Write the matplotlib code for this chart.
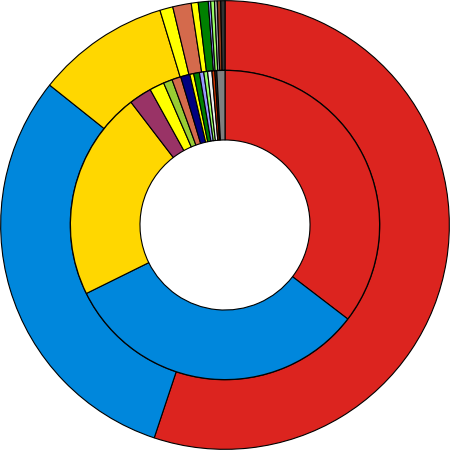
import matplotlib
matplotlib.use("Agg")
import matplotlib.pyplot as plt

# outer ring (share, %)
outer_values = [55.1, 30.6, 9.6, 0.94, 1.33, 0.5, 0.72, 0.17, 0.27, 0.2, 0.25, 0.3]
outer_colours = ["#dc241f", "#0087dc", "#ffd700", "#ffff00", "#d46a4c", "#ffff00",
                 "#008000", "#9999ff", "#99ff66", "#aaaaaa", "#8b3a1a", "#333333"]

# inner ring (share, %)
inner_values = [35.4, 32.3, 21.9, 2.37, 1.54, 0.93, 0.94, 0.97, 0.4, 0.6, 0.45,
                0.4, 0.45, 0.3, 0.2, 0.85]
inner_colours = ["#dc241f", "#0087dc", "#ffd700", "#993366", "#ffff00", "#99cc33",
                 "#d46a4c", "#000080", "#ffff00", "#008000", "#9999ff", "#99ff66",
                 "#eeeeee", "#cc3300", "#333333", "#808080"]

fig = plt.figure(figsize=(4.5, 4.5), dpi=100)
ax = fig.add_axes([0, 0, 1, 1])

wedge = dict(edgecolor="black", linewidth=0.8)
ax.pie(outer_values, colors=outer_colours, radius=1.0, startangle=90,
       counterclock=False, wedgeprops=dict(width=0.31, **wedge))
ax.pie(inner_values, colors=inner_colours, radius=0.689, startangle=90,
       counterclock=False, wedgeprops=dict(width=0.31, **wedge))

ax.set_xlim(-1.003, 1.003)
ax.set_ylim(-1.003, 1.003)
ax.set_aspect("equal")
ax.axis("off")

fig.savefig("out.png", dpi=100)
